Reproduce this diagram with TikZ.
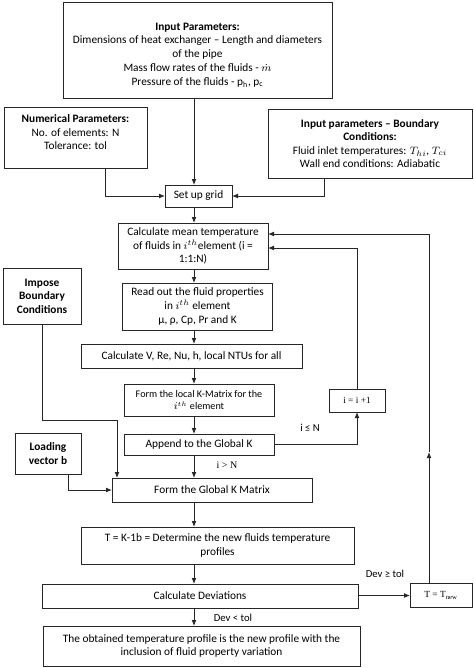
\documentclass[tikz,border=0pt]{standalone}
\usepackage{fontspec}
\setmainfont{Carlito}
\newfontfamily\tnr{Liberation Serif}
\usetikzlibrary{arrows.meta,calc}
\begin{document}
\begin{tikzpicture}[x=0.75pt,y=-0.75pt,
  box/.style={draw=black!85,line width=0.6pt,align=center,inner sep=1pt,outer sep=0pt,
    font=\fontsize{8.5}{10.2}\selectfont},
  txt/.style={align=center,inner sep=0pt,font=\fontsize{8.5}{10.2}\selectfont},
  sz/.style 2 args={minimum width=#1*0.75pt,minimum height=#2*0.75pt},
  arr/.style={draw=black!85,line width=0.6pt,-{Latex[length=4.5pt,width=3.6pt]}},
  lab/.style={inner sep=0pt,font=\fontsize{8}{9.6}\selectfont}]
\useasboundingbox (0,0) rectangle (474,668);

% nodes
\node[box,sz={269}{96}] (top) at (197.5,50) {};
\node[txt,font=\fontsize{8.5}{10.4}\selectfont] (toptext) at (top.center) [yshift=-3.8pt] {\textbf{Input Parameters:}\\Dimensions of heat exchanger -- Length and diameters\\of the pipe\\Mass flow rates of the fluids - $\dot{m}$\\Pressure of the fluids - p\textsubscript{h}, p\textsubscript{c}};
\node[box,sz={143}{61}] (num) at (75.5,137.5) {};
\node[txt] (numtext) at (num.center) [yshift=4pt] {\textbf{Numerical Parameters:}\\No. of elements: N\\Tolerance: tol};
\node[box,sz={204}{69}] (bnd) at (370,143.5) {\textbf{Input parameters -- Boundary}\\\textbf{Conditions:}\\Fluid inlet temperatures: $T_{hi}$, $T_{ci}$\\Wall end conditions: Adiabatic};
\node[box,sz={67}{22}] (grid) at (198.5,196) {Set up grid};
\node[box,sz={150}{46}] (mean) at (193,246) {Calculate mean temperature\\of fluids in $i^{th}$element (i =\\1:1:N)};
\node[box,sz={78}{56}] (impose) at (42,296) {\textbf{Impose}\\\textbf{Boundary}\\\textbf{Conditions}};
\node[box,sz={150}{47}] (read) at (197.5,306.5) {Read out the fluid properties\\in $i^{th}$ element\\μ, ρ, Cp, Pr and K};
\node[box,sz={221}{24}] (calcv) at (191.5,356) {Calculate V, Re, Nu, h, local NTUs for all};
\node[box,sz={150}{32},font=\fontsize{7.6}{9.6}\selectfont] (local) at (199,400) {Form the local K-Matrix for the\\$i^{th}$ element};
\node[box,sz={56}{23},font=\tnr\fontsize{7}{8}\selectfont] (inc) at (357,400.5) {i = i +1};
\node[box,sz={150}{21}] (append) at (199,444.5) {Append to the Global K};
\node[box,sz={66}{41}] (load) at (48,453.5) {\textbf{Loading}\\\textbf{vector b}};
\node[box,sz={200}{24}] (global) at (212,490) {Form the Global K Matrix};
\node[box,sz={273}{37}] (solve) at (217.5,545.5) {T = K-1b = Determine the new fluids temperature\\profiles};
\node[box,sz={316}{24}] (dev) at (200,596) {Calculate Deviations};
\node[box,sz={62}{24},font=\tnr\fontsize{7}{8}\selectfont] (tnew) at (441,595.5) {T = T\textsubscript{new}};
\node[box,sz={317}{40}] (final) at (201.5,646) {The obtained temperature profile is the new profile with the\\inclusion of fluid property variation};

% labels
\node[lab] (lle) at (310,428) {i ≤ N};
\node[lab,font=\tnr\fontsize{7.5}{9}\selectfont] (lgt) at (227,465) {i > N};
\node[lab] (lge) at (385,574) {Dev ≥ tol};
\node[lab] (llt) at (233,618) {Dev < tol};

% helper coordinates
\coordinate (spine) at (194,0);
\coordinate (numx) at (105,0);
\coordinate (bndx) at (324,0);
\coordinate (ldx) at (68,0);
\coordinate (rx) at (429,0);
\coordinate (e1) at (0,234);
\coordinate (e2) at (0,248);
\coordinate (imp1) at (117,420);
\coordinate (mid) at (429,452);

% connectors
\draw[arr] (top.south -| spine) -- (grid.north -| spine);
\draw[arr] (num.south -| numx) |- (grid.west);
\draw[arr] (bnd.south -| bndx) |- (grid.east);
\draw[arr] (grid.south -| spine) -- (mean.north -| spine);
\draw[arr] (mean.south -| spine) -- (read.north -| spine);
\draw[arr] (read.south -| spine) -- (calcv.north -| spine);
\draw[arr] (calcv.south -| spine) -- (local.north -| spine);
\draw[arr] (local.south -| spine) -- (append.north -| spine);
\draw[arr] (append.east) -| (inc.south);
\draw[arr] (inc.north) |- (mean.east |- e2);
\draw[arr] (append.south -| spine) -- (global.north -| spine);
\draw[arr] (impose.south) |- (imp1) -- (global.north -| imp1);
\draw[arr] (load.south -| ldx) |- (global.west);
\draw[arr] (global.south -| spine) -- (solve.north -| spine);
\draw[arr] (solve.south -| spine) -- (dev.north -| spine);
\draw[arr] (tnew.west -| dev.east) -- (tnew.west);
\draw[arr] (tnew.north -| rx) -- (mid);
\draw[arr] (mid) |- (mean.east |- e1);
\draw[arr] (dev.south -| spine) -- (final.north -| spine);
\end{tikzpicture}
\end{document}
